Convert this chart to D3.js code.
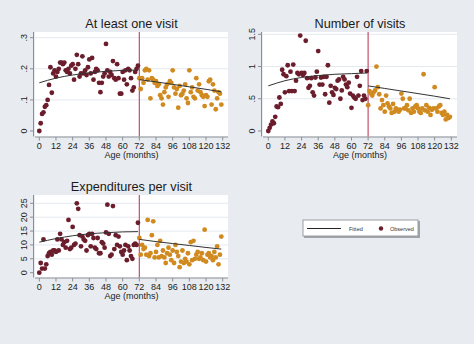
<!DOCTYPE html>
<html>
<head>
<meta charset="utf-8">
<script src="https://cdn.jsdelivr.net/npm/d3@7"></script>
<style>
  body { margin: 0; background: #e8ecf0; }
  svg { display: block; font-family: "Liberation Sans", Arial, sans-serif; }
</style>
</head>
<body>
<svg width="474" height="344"></svg>
<script>
// months 0..131, one observation per month
let ages = d3.range(0, 132);
let cutoff = 72;
let xTicks = [0, 12, 24, 36, 48, 60, 72, 84, 96, 108, 120, 132];

// At least one visit
let visitAny = [
  0, .025, .055, .06, .078, .083, .10, .148, .205, .123, .185, .195,
  .175, .19, .20, .22, .22, .215, .22, .195, .19, .20, .185, .21,
  .215, .165, .20, .245, .215, .175, .185, .24, .185, .195, .18, .205,
  .23, .185, .235, .165, .19, .20, .195, .155, .125, .155, .175, .185,
  .28, .195, .175, .19, .18, .225, .17, .165, .215, .17, .12, .12,
  .19, .165, .195, .15, .20, .195, .17, .13, .14, .19, .20, .21,
  .17, .135, .17, .155, .195, .20, .165, .195, .105, .17, .165, .155,
  .16, .145, .15, .115, .105, .085, .125, .14, .15, .11, .16, .155,
  .195, .14, .12, .135, .075, .145, .115, .12, .13, .15, .105, .09,
  .195, .125, .14, .11, .105, .17, .13, .15, .125, .115, .11, .08,
  .115, .11, .16, .165, .085, .15, .13, .07, .105, .125, .12, .085
];
let visitAnyFitL = [.155, .170, .180, .187, .192, .195, .196];
let visitAnyFitR = [.165, .158, .150, .142, .134, .126];

// Number of visits
let visitNum = [
  0, .05, .10, .15, .12, .22, .38, .37, .52, .42, .95, .88,
  .60, .85, 1.02, .62, .92, .62, 1.03, .62, .78, .90, .88, 1.48,
  .90, .87, .90, 1.40, .82, .67, .70, .82, .60, .55, .83, .92,
  1.24, .72, .83, .72, .84, .57, .84, 1.02, .44, .70, .60, .56,
  .67, .65, .78, .80, .50, .63, .84, .80, .72, .68, .75, .58,
  .36, .55, .52, .50, .84, .55, .70, .93, .48, .55, .50, .93,
  .40, .62, .58, .55, .60, .63, 1.0, .68, .57, .35, .48, .40,
  .30, .55, .43, .38, .35, .28, .42, .30, .35, .33, .30, .33,
  .58, .50, .35, .35, .40, .32, .50, .28, .35, .30, .38, .40,
  .35, .30, .28, .35, .88, .32, .40, .30, .36, .25, .33, .35,
  .68, .35, .30, .38, .40, .28, .25, .30, .18, .25, .20, .22
];
let visitNumFitL = [.70, .78, .83, .86, .88, .89, .90];
let visitNumFitR = [.70, .66, .62, .58, .54, .50];

// Expenditures per visit
let expend = [
  0, 3.5, 1.5, 12, 1.5, 3, 6, 7, 7.5, 6.5, 8, 8,
  7.5, 12, 8, 14, 12, 10, 11, 9, 11.5, 19, 8.5, 9,
  16.5, 10, 10.5, 25, 23, 13.5, 9.5, 13, 12, 11.5, 8, 13.5,
  14, 9.5, 14, 12.5, 9, 8.5, 12.5, 7, 7, 11, 10.5, 9,
  14.5, 24.5, 14, 6, 6.5, 24, 8.5, 13.5, 10, 13, 9.5, 7.5,
  6.5, 8, 10, 4.5, 9.5, 8, 6, 5, 10, 10.5, 10, 18,
  12.5, 6.5, 10, 8.5, 9, 6.5, 19, 6, 7, 13.5, 18.5, 5.5,
  7.5, 10, 5.5, 11.5, 6, 8, 5.5, 3.5, 7, 9, 6.5, 4.5,
  8, 3.5, 10, 7.5, 6, 2, 4, 8, 3.5, 5, 4, 7,
  3, 11, 4.5, 11.5, 5, 6.5, 7.5, 5, 5.5, 7, 4.5, 15.5,
  4, 6.5, 7, 5.5, 6, 4.5, 7.5, 5.5, 9.5, 3, 6.5, 13
];
let expendFitL = [11, 12.3, 13.3, 14, 14.4, 14.7, 14.8];
let expendFitR = [12, 11.2, 10.5, 9.8, 9.1, 8.5];

let fitAgesL = [0, 12, 24, 36, 48, 60, 71];
let fitAgesR = [72, 84, 96, 108, 120, 131];

let maroon = '#6b1d2c';
let orange = '#d08a1f';
let svg = d3.select('svg');

function panel(p) {
    let x = d3.scaleLinear().domain([0, 132]).range(p.xr);
    let y = d3.scaleLinear().domain([0, p.ymax]).range(p.yr);
    let g = svg.append('g');

    g.append('rect')
        .attr('x', p.box[0]).attr('y', p.box[1])
        .attr('width', p.box[2] - p.box[0]).attr('height', p.box[3] - p.box[1])
        .attr('fill', '#ffffff');

    // gridlines
    g.selectAll('.grid').data(p.yTicks.slice(1)).enter().append('line')
        .attr('x1', p.box[0]).attr('x2', p.box[2])
        .attr('y1', d => y(d)).attr('y2', d => y(d))
        .attr('stroke', '#e4e9ee').attr('stroke-width', 1);

    // y axis
    g.append('line')
        .attr('x1', p.box[0] - 1.5).attr('x2', p.box[0] - 1.5)
        .attr('y1', p.box[1]).attr('y2', p.box[3])
        .attr('stroke', '#8a8f94');
    g.selectAll('.yt').data(p.yTicks).enter().append('line')
        .attr('x1', p.box[0] - 5).attr('x2', p.box[0] - 1.5)
        .attr('y1', d => y(d)).attr('y2', d => y(d))
        .attr('stroke', '#8a8f94');
    g.selectAll('.yl').data(p.yTicks).enter().append('text')
        .attr('transform', d => `translate(${p.box[0] - 8}, ${y(d)}) rotate(-90)`)
        .attr('text-anchor', 'middle')
        .style('font-size', '9px')
        .attr('fill', '#222')
        .text((d, i) => p.yLabels[i]);

    // x axis
    g.append('line')
        .attr('x1', p.box[0]).attr('x2', p.box[2])
        .attr('y1', p.box[3] + 0.5).attr('y2', p.box[3] + 0.5)
        .attr('stroke', '#8a8f94');
    g.selectAll('.xt').data(xTicks).enter().append('line')
        .attr('x1', d => x(d)).attr('x2', d => x(d))
        .attr('y1', p.box[3] + 0.5).attr('y2', p.box[3] + 4)
        .attr('stroke', '#8a8f94');
    g.selectAll('.xl').data(xTicks).enter().append('text')
        .attr('x', d => x(d)).attr('y', p.box[3] + 12.5)
        .attr('text-anchor', 'middle')
        .style('font-size', '9px')
        .attr('fill', '#222')
        .text(d => d);
    g.append('text')
        .attr('x', (p.box[0] + p.box[2]) / 2).attr('y', p.box[3] + 21)
        .attr('text-anchor', 'middle')
        .style('font-size', '9px')
        .attr('fill', '#222')
        .text('Age (months)');

    g.append('text')
        .attr('x', (p.box[0] + p.box[2]) / 2).attr('y', p.titleY)
        .attr('text-anchor', 'middle')
        .style('font-size', '12.7px')
        .attr('fill', '#1a1a1a')
        .text(p.title);

    // cutoff line
    g.append('line')
        .attr('x1', x(cutoff)).attr('x2', x(cutoff))
        .attr('y1', p.box[1]).attr('y2', p.box[3])
        .attr('stroke', '#c2506c').attr('stroke-width', 1.2);

    // observed
    g.selectAll('.dot').data(ages).enter().append('circle')
        .attr('cx', d => x(d))
        .attr('cy', (d, i) => y(p.values[i]))
        .attr('r', 2.4)
        .attr('fill', d => d < cutoff ? maroon : orange);

    // fitted
    let line = d3.line().x(d => x(d[0])).y(d => y(d[1])).curve(d3.curveMonotoneX);
    g.append('path')
        .attr('d', line(fitAgesL.map((a, i) => [a, p.fitL[i]])))
        .attr('fill', 'none').attr('stroke', '#333').attr('stroke-width', 1);
    g.append('path')
        .attr('d', line(fitAgesR.map((a, i) => [a, p.fitR[i]])))
        .attr('fill', 'none').attr('stroke', '#333').attr('stroke-width', 1);
}

panel({
    title: 'At least one visit', titleY: 27.5,
    box: [35, 32, 228, 136.5], xr: [39.3, 222.7], yr: [131, 37.7], ymax: .3,
    yTicks: [0, .1, .2, .3], yLabels: ['0', '.1', '.2', '.3'],
    values: visitAny, fitL: visitAnyFitL, fitR: visitAnyFitR
});
panel({
    title: 'Number of visits', titleY: 27.5,
    box: [263, 32, 457, 136.5], xr: [268.3, 451.3], yr: [131, 34.3], ymax: 1.5,
    yTicks: [0, .5, 1, 1.5], yLabels: ['0', '.5', '1', '1.5'],
    values: visitNum, fitL: visitNumFitL, fitR: visitNumFitR
});
panel({
    title: 'Expenditures per visit', titleY: 191,
    box: [35, 195, 228, 277.5], xr: [39.3, 222.7], yr: [272.7, 203.3], ymax: 25,
    yTicks: [0, 5, 10, 15, 20, 25], yLabels: ['0', '5', '10', '15', '20', '25'],
    values: expend, fitL: expendFitL, fitR: expendFitR
});

// legend
let legend = svg.append('g');
legend.append('rect')
    .attr('x', 304).attr('y', 221).attr('width', 116).attr('height', 17)
    .attr('fill', '#a0a4a8');
legend.append('rect')
    .attr('x', 303).attr('y', 220).attr('width', 115).attr('height', 16)
    .attr('fill', '#ffffff').attr('stroke', '#9a9ea2').attr('stroke-width', 1);
legend.append('line')
    .attr('x1', 307).attr('x2', 341).attr('y1', 228.5).attr('y2', 228.5)
    .attr('stroke', '#222').attr('stroke-width', 1);
legend.append('text')
    .attr('x', 349).attr('y', 230.5)
    .style('font-size', '5.5px').attr('fill', '#333')
    .text('Fitted');
legend.append('circle')
    .attr('cx', 381).attr('cy', 228.5).attr('r', 2.2)
    .attr('fill', maroon);
legend.append('text')
    .attr('x', 390).attr('y', 230.5)
    .style('font-size', '5.5px').attr('fill', '#333')
    .text('Observed');
</script>
</body>
</html>
